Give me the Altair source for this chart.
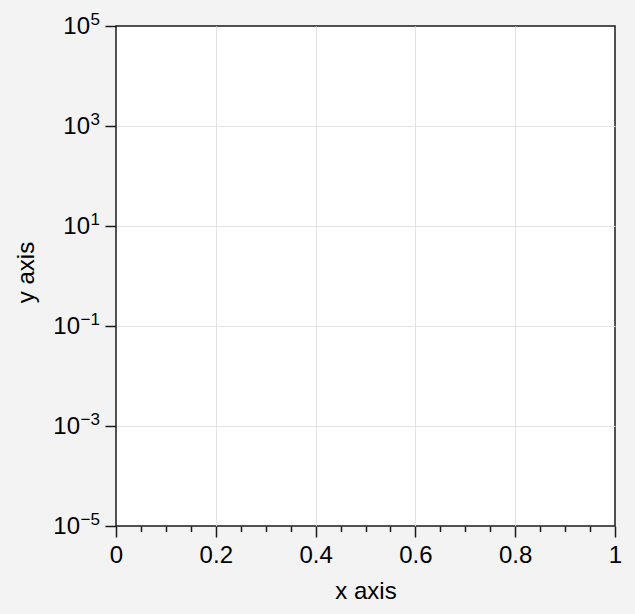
import altair as alt
import pandas as pd

# axis ticks / labels
x_major = [0, 0.2, 0.4, 0.6, 0.8, 1]
x_minor = [0.05, 0.1, 0.15, 0.25, 0.3, 0.35, 0.45, 0.5, 0.55,
           0.65, 0.7, 0.75, 0.85, 0.9, 0.95]
y_ticks = [1e-5, 1e-3, 1e-1, 1e1, 1e3, 1e5]
x_domain = [0, 1]
y_domain = [1e-5, 1e5]
x_title = "x axis"
y_title = "y axis"

# no data series in the reference (empty axes)
xs = []
ys = []

FONT = "Liberation Sans"
FS = 24
FS_SUP = 17
INK = "#1a1a1a"
BG = "#f3f3f3"

# page background (so the 8px body margin matches the figure background)
try:
    import altair.utils.html as _ah
    _orig = _ah.TEMPLATES["standard"]

    class _Tpl:
        def render(self, *a, **kw):
            html = _orig.render(*a, **kw)
            return html.replace(
                "<head>", f"<head><style>body{{background:{BG};}}</style>", 1
            )

    _ah.TEMPLATES["standard"] = _Tpl()
except Exception:
    pass

df = pd.DataFrame({"x": pd.Series(xs, dtype=float), "y": pd.Series(ys, dtype=float)})

exp_ = "round(log(datum.value)/LN10)"
sup_expr = f"({exp_} < 0 ? '\u2212' : '') + abs({exp_})"

xscale = alt.Scale(domain=x_domain, nice=False, zero=False)
yscale = alt.Scale(type="log", domain=y_domain, nice=False)

# hide grid lines that coincide with the frame
x_edge = "datum.value <= 0.0001 || datum.value >= 0.9999"
y_edge = f"{exp_} <= -5 || {exp_} >= 5"

main = alt.Chart(df).mark_point(opacity=0).encode(
    x=alt.X(
        "x:Q",
        scale=xscale,
        axis=alt.Axis(
            orient="bottom",
            title=x_title,
            values=x_major,
            labelExpr="format(datum.value, '~g')",
            tickSize=11,
            grid=True,
            gridOpacity={"condition": {"test": x_edge, "value": 0}, "value": 1},
            labelOverlap=False,
            labelFlush=False,
            labelBaseline="alphabetic",
            labelPadding=25.5,
            titleBaseline="alphabetic",
            titleY=72,
        ),
    ),
    y=alt.Y(
        "y:Q",
        scale=yscale,
        axis=alt.Axis(
            orient="left",
            title=y_title,
            values=y_ticks,
            labelExpr="'10'",
            tickSize=11,
            grid=True,
            gridOpacity={"condition": {"test": y_edge, "value": 0}, "value": 1},
            labelOverlap=False,
            labelFlush=False,
            labelPadding={"condition": {"test": "datum.value < 1", "value": 25.5},
                          "value": 15.5},
            titleBaseline="alphabetic",
            titleAngle=-90,
            titleX=-83,
            titleY=246,
        ),
    ),
)

minor = alt.Chart(df).mark_point(opacity=0).encode(
    x=alt.X(
        "x:Q",
        scale=xscale,
        axis=alt.Axis(
            orient="bottom",
            title=None,
            values=x_minor,
            labels=False,
            tickSize=5.5,
            grid=False,
        ),
    ),
    y=alt.Y(
        "y:Q",
        scale=yscale,
        axis=alt.Axis(
            orient="left",
            title=None,
            values=y_ticks,
            labelExpr=sup_expr,
            labelFontSize=FS_SUP,
            ticks=False,
            grid=False,
            labelOverlap=False,
            labelFlush=False,
            labelPadding=16.5,
            labelOffset=-7,
        ),
    ),
)

chart = alt.layer(main, minor).resolve_axis(
    x="independent", y="independent"
).properties(
    width=499,
    height=500,
    background=BG,
    padding={"left": 108, "top": 18, "right": 12, "bottom": 80},
    autosize=alt.AutoSizeParams(type="none"),
).configure_view(
    fill="white", stroke=INK, strokeWidth=1.5
).configure_axis(
    domain=False,
    tickColor=INK,
    tickWidth=1.5,
    gridColor="#e3e3e3",
    gridWidth=1,
    labelFont=FONT,
    labelFontSize=FS,
    labelColor="black",
    titleFont=FONT,
    titleFontSize=FS,
    titleFontWeight="normal",
    titleColor="black",
)

chart.save("out.html", embed_options={"renderer": "svg", "actions": False})
